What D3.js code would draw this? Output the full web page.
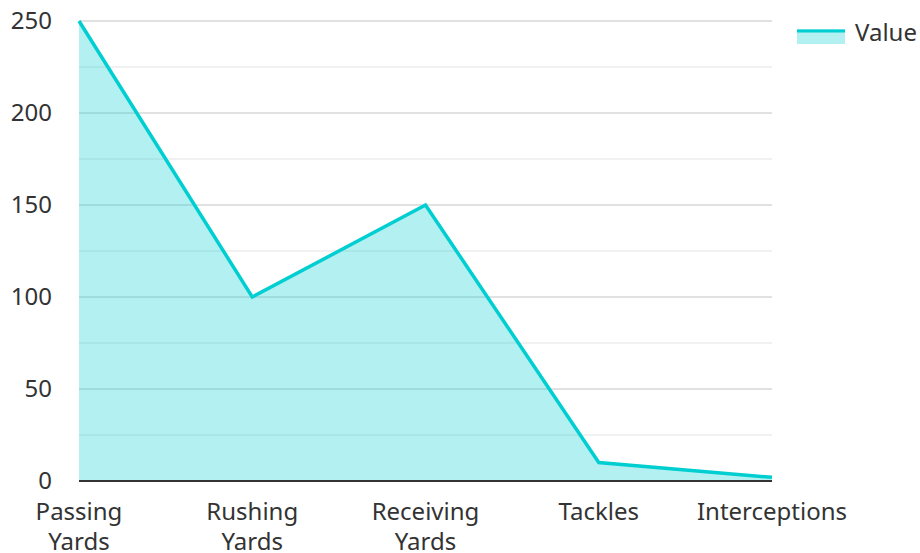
<!DOCTYPE html>
<html>
<head>
<meta charset="utf-8">
<script src="https://cdn.jsdelivr.net/npm/d3@7"></script>
<style>
  body { margin: 0; background: #fff; }
  svg { display: block; font-family: "Noto Sans", "Open Sans", sans-serif; }
</style>
</head>
<body>
<div id="chart"></div>
<script>
// ── Data ─────────────────────────────────────────────
const categories = ["Passing Yards", "Rushing Yards", "Receiving Yards", "Tackles", "Interceptions"];
const values     = [250, 100, 150, 10, 2];
const yTicks     = [0, 50, 100, 150, 200, 250];
const minorTicks = [25, 75, 125, 175, 225];
const seriesName = "Value";

const width  = 920;
const height = 553;
const margin = { top: 21, right: 148, bottom: 72, left: 79 };

const svg = d3.select("#chart").append("svg")
    .attr("width", width).attr("height", height);

const x = d3.scalePoint()
    .domain(categories)
    .range([margin.left, width - margin.right])
    .padding(0);

const y = d3.scaleLinear()
    .domain([0, 250])
    .range([height - margin.bottom, margin.top]);

const data = categories.map((c, i) => ({ cat: c, value: values[i] }));

// Gridlines
svg.append("g").selectAll("line.minor")
    .data(minorTicks).join("line").attr("class", "minor")
    .attr("x1", margin.left).attr("x2", width - margin.right)
    .attr("y1", d => y(d)).attr("y2", d => y(d))
    .attr("stroke", "#e3e3e3").attr("stroke-width", 1);

svg.append("g").selectAll("line.major")
    .data(yTicks.filter(d => d > 0)).join("line").attr("class", "major")
    .attr("x1", margin.left).attr("x2", width - margin.right)
    .attr("y1", d => y(d)).attr("y2", d => y(d))
    .attr("stroke", "#c4c4c4").attr("stroke-width", 1);

// Area + line
const area = d3.area()
    .x(d => x(d.cat)).y0(y(0)).y1(d => y(d.value));
const line = d3.line()
    .x(d => x(d.cat)).y(d => y(d.value));

svg.append("path").datum(data)
    .attr("d", area)
    .attr("fill", "#00ced1").attr("fill-opacity", 0.3);

svg.append("path").datum(data)
    .attr("d", line)
    .attr("fill", "none")
    .attr("stroke", "#00ced1").attr("stroke-width", 3.5)
    .attr("stroke-linejoin", "miter");

// Y axis labels
svg.append("g").selectAll("text")
    .data(yTicks).join("text")
    .attr("x", 52).attr("y", d => y(d))
    .attr("dy", "0.35em")
    .attr("text-anchor", "end")
    .style("font-size", "24px").style("fill", "#333")
    .text(d => d);

// X axis baseline
svg.append("line")
    .attr("x1", margin.left).attr("x2", width - margin.right)
    .attr("y1", y(0)).attr("y2", y(0))
    .attr("stroke", "#333").attr("stroke-width", 2);

// X labels (wrapped on space)
const xl = svg.append("g").selectAll("text")
    .data(categories).join("text")
    .attr("x", d => x(d)).attr("y", 520)
    .attr("text-anchor", "middle")
    .style("font-size", "24px").style("fill", "#333");

xl.each(function(d) {
    const words = d.split(" ");
    const t = d3.select(this);
    words.forEach((w, i) => {
        t.append("tspan").attr("x", x(d)).attr("dy", i === 0 ? 0 : 30).text(w);
    });
});

// Legend
const lg = svg.append("g").attr("transform", "translate(797,29)");
lg.append("rect").attr("width", 48).attr("height", 15)
    .attr("fill", "#00ced1").attr("fill-opacity", 0.3);
lg.append("line").attr("x1", 0).attr("x2", 48).attr("y1", 2).attr("y2", 2)
    .attr("stroke", "#00ced1").attr("stroke-width", 3);
lg.append("text").attr("x", 58).attr("y", 12)
    .style("font-size", "24px").style("fill", "#333")
    .text(seriesName);
</script>
</body>
</html>
